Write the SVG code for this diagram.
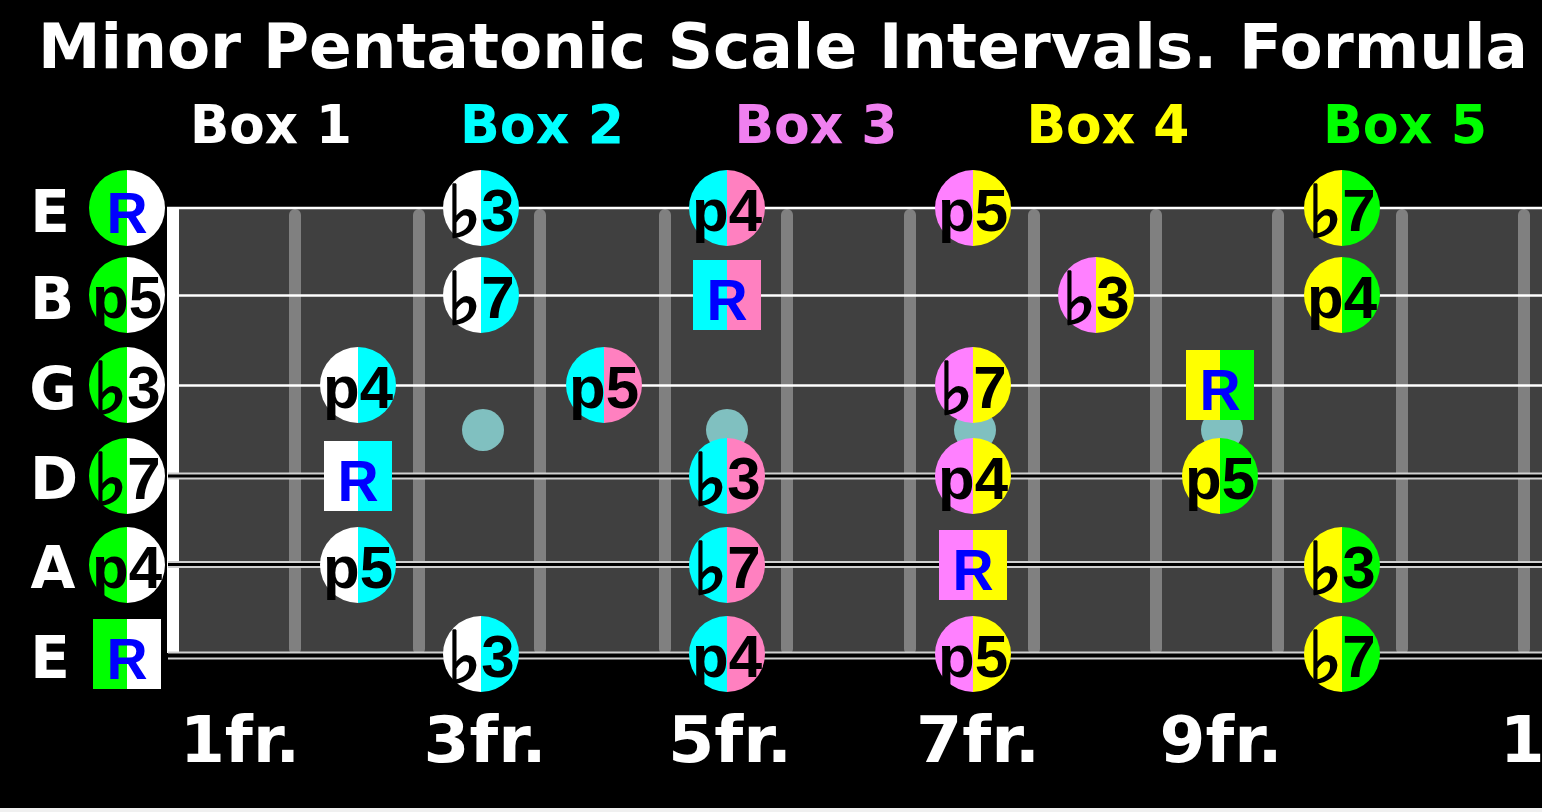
<svg xmlns="http://www.w3.org/2000/svg" xmlns:xlink="http://www.w3.org/1999/xlink" width="1542" height="812" viewBox="0 0 1542 812">
<style>
.hd{font-family:"DejaVu Sans","Liberation Sans",sans-serif;font-weight:bold;text-anchor:middle}
.iv{font-family:"Liberation Sans","DejaVu Sans",sans-serif;font-weight:bold;font-size:60px;text-anchor:middle;fill:#000}
.rt{font-family:"Liberation Sans","DejaVu Sans",sans-serif;font-weight:bold;font-size:57px;text-anchor:middle;fill:#0000ff}
.fl{font-family:"DejaVu Sans",sans-serif;font-weight:bold;font-size:72px;stroke:#000;stroke-width:2.2}
.fret{fill:#808080}
.dot{fill:#80c0c0}
.plain{stroke:#ffffff;stroke-width:2.5}
.wound{stroke:#d0d0d0;stroke-width:7}
.core{stroke:#000;stroke-width:3}
</style>
<defs>
<path id="hl" d="M0,-38 A38,38 0 0 0 0,38 Z"/>
<path id="hr" d="M0,-38 A38,38 0 0 1 0,38 Z"/>
<rect id="sl" x="-34" y="-35" width="34" height="70"/>
<rect id="sr" x="0" y="-35" width="34" height="70"/>
</defs>
<rect width="1542" height="812" fill="#000"/>
<rect x="0" y="808" width="1542" height="4" fill="#f0f0f0"/>
<g id="fretboard">
<rect x="179" y="209" width="1363" height="443" fill="#404040"/>
<rect class="fret" x="289" y="209" width="12" height="446" rx="6"/>
<rect class="fret" x="413" y="209" width="12" height="446" rx="6"/>
<rect class="fret" x="534" y="209" width="12" height="446" rx="6"/>
<rect class="fret" x="659" y="209" width="12" height="446" rx="6"/>
<rect class="fret" x="781" y="209" width="12" height="446" rx="6"/>
<rect class="fret" x="904" y="209" width="12" height="446" rx="6"/>
<rect class="fret" x="1028" y="209" width="12" height="446" rx="6"/>
<rect class="fret" x="1150" y="209" width="12" height="446" rx="6"/>
<rect class="fret" x="1272" y="209" width="12" height="446" rx="6"/>
<rect class="fret" x="1396" y="209" width="12" height="446" rx="6"/>
<rect class="fret" x="1518" y="209" width="12" height="446" rx="6"/>
<circle class="dot" cx="483" cy="430" r="21"/>
<circle class="dot" cx="727" cy="430" r="21"/>
<circle class="dot" cx="975" cy="430" r="21"/>
<circle class="dot" cx="1222" cy="430" r="21"/>
<rect x="167" y="207" width="12" height="446" fill="#fff"/>
</g>
<g id="strings">
<line class="plain" x1="167" y1="208" x2="1542" y2="208"/>
<line class="plain" x1="179" y1="295.5" x2="1542" y2="295.5"/>
<line class="plain" x1="179" y1="385.5" x2="1542" y2="385.5"/>
<line class="wound" x1="168" y1="476" x2="1542" y2="476"/>
<line class="core" x1="168" y1="476" x2="1542" y2="476"/>
<line class="wound" x1="168" y1="564.5" x2="1542" y2="564.5"/>
<line class="core" x1="168" y1="564.5" x2="1542" y2="564.5"/>
<line class="wound" x1="168" y1="655.5" x2="1542" y2="655.5" style="stroke-width:8"/>
<line class="core" x1="168" y1="655.5" x2="1542" y2="655.5" style="stroke-width:4"/>
</g>
<g id="title"><text class="hd" x="783" y="68" font-size="63" fill="#fff" textLength="1490" lengthAdjust="spacingAndGlyphs">Minor Pentatonic Scale Intervals. Formula</text></g>
<g id="box-labels">
<text class="hd" x="271" y="143" font-size="54" fill="#fff" textLength="162" lengthAdjust="spacingAndGlyphs">Box 1</text>
<text class="hd" x="542" y="143" font-size="54" fill="#00ffff" textLength="164" lengthAdjust="spacingAndGlyphs">Box 2</text>
<text class="hd" x="816" y="143" font-size="54" fill="#f080f0" textLength="163" lengthAdjust="spacingAndGlyphs">Box 3</text>
<text class="hd" x="1108" y="143" font-size="54" fill="#ffff00" textLength="163" lengthAdjust="spacingAndGlyphs">Box 4</text>
<text class="hd" x="1405" y="143" font-size="54" fill="#00ff00" textLength="164" lengthAdjust="spacingAndGlyphs">Box 5</text>
</g>
<g id="string-labels" fill="#fff">
<text class="hd" x="50" y="232" font-size="58">E</text>
<text class="hd" x="52" y="319" font-size="58">B</text>
<text class="hd" x="53" y="409" font-size="58">G</text>
<text class="hd" x="54" y="499" font-size="58">D</text>
<text class="hd" x="53" y="588" font-size="58">A</text>
<text class="hd" x="50" y="678" font-size="58">E</text>
</g>
<g id="fret-labels" fill="#fff">
<text class="hd" x="240" y="762" font-size="64" textLength="120" lengthAdjust="spacingAndGlyphs">1fr.</text>
<text class="hd" x="485" y="762" font-size="64" textLength="123" lengthAdjust="spacingAndGlyphs">3fr.</text>
<text class="hd" x="730" y="762" font-size="64" textLength="124" lengthAdjust="spacingAndGlyphs">5fr.</text>
<text class="hd" x="978" y="762" font-size="64" textLength="124" lengthAdjust="spacingAndGlyphs">7fr.</text>
<text class="hd" x="1221" y="762" font-size="64" textLength="123" lengthAdjust="spacingAndGlyphs">9fr.</text>
<text class="hd" x="1500" y="762" font-size="64" style="text-anchor:start">1</text>
</g>
<!-- open strings -->
<g id="n-e1-0" transform="translate(127,208)"><use xlink:href="#hl" fill="#00ff00"/><use xlink:href="#hr" fill="#fff"/><text class="rt" y="25">R</text></g>
<g id="n-b-0" transform="translate(127,295)"><use xlink:href="#hl" fill="#00ff00"/><use xlink:href="#hr" fill="#fff"/><text class="iv" y="23">p5</text></g>
<g id="n-g-0" transform="translate(127,385)"><use xlink:href="#hl" fill="#00ff00"/><use xlink:href="#hr" fill="#fff"/><text class="iv" y="23"><tspan class="fl" dy="6">♭</tspan><tspan dy="-6">3</tspan></text></g>
<g id="n-d-0" transform="translate(127,476)"><use xlink:href="#hl" fill="#00ff00"/><use xlink:href="#hr" fill="#fff"/><text class="iv" y="23"><tspan class="fl" dy="6">♭</tspan><tspan dy="-6">7</tspan></text></g>
<g id="n-a-0" transform="translate(127,565)"><use xlink:href="#hl" fill="#00ff00"/><use xlink:href="#hr" fill="#fff"/><text class="iv" y="23">p4</text></g>
<g id="n-e6-0" transform="translate(127,654)"><use xlink:href="#sl" fill="#00ff00"/><use xlink:href="#sr" fill="#fff"/><text class="rt" y="25">R</text></g>
<!-- fret 2 -->
<g id="n-g-2" transform="translate(358,385)"><use xlink:href="#hl" fill="#fff"/><use xlink:href="#hr" fill="#00ffff"/><text class="iv" y="23">p4</text></g>
<g id="n-d-2" transform="translate(358,476)"><use xlink:href="#sl" fill="#fff"/><use xlink:href="#sr" fill="#00ffff"/><text class="rt" y="25">R</text></g>
<g id="n-a-2" transform="translate(358,565)"><use xlink:href="#hl" fill="#fff"/><use xlink:href="#hr" fill="#00ffff"/><text class="iv" y="23">p5</text></g>
<!-- fret 3 -->
<g id="n-e1-3" transform="translate(481,208)"><use xlink:href="#hl" fill="#fff"/><use xlink:href="#hr" fill="#00ffff"/><text class="iv" y="23"><tspan class="fl" dy="6">♭</tspan><tspan dy="-6">3</tspan></text></g>
<g id="n-b-3" transform="translate(481,295)"><use xlink:href="#hl" fill="#fff"/><use xlink:href="#hr" fill="#00ffff"/><text class="iv" y="23"><tspan class="fl" dy="6">♭</tspan><tspan dy="-6">7</tspan></text></g>
<g id="n-e6-3" transform="translate(481,654)"><use xlink:href="#hl" fill="#fff"/><use xlink:href="#hr" fill="#00ffff"/><text class="iv" y="23"><tspan class="fl" dy="6">♭</tspan><tspan dy="-6">3</tspan></text></g>
<!-- fret 4 -->
<g id="n-g-4" transform="translate(604,385)"><use xlink:href="#hl" fill="#00ffff"/><use xlink:href="#hr" fill="#ff80c0"/><text class="iv" y="23">p5</text></g>
<!-- fret 5 -->
<g id="n-e1-5" transform="translate(727,208)"><use xlink:href="#hl" fill="#00ffff"/><use xlink:href="#hr" fill="#ff80c0"/><text class="iv" y="23">p4</text></g>
<g id="n-b-5" transform="translate(727,295)"><use xlink:href="#sl" fill="#00ffff"/><use xlink:href="#sr" fill="#ff80c0"/><text class="rt" y="25">R</text></g>
<g id="n-d-5" transform="translate(727,476)"><use xlink:href="#hl" fill="#00ffff"/><use xlink:href="#hr" fill="#ff80c0"/><text class="iv" y="23"><tspan class="fl" dy="6">♭</tspan><tspan dy="-6">3</tspan></text></g>
<g id="n-a-5" transform="translate(727,565)"><use xlink:href="#hl" fill="#00ffff"/><use xlink:href="#hr" fill="#ff80c0"/><text class="iv" y="23"><tspan class="fl" dy="6">♭</tspan><tspan dy="-6">7</tspan></text></g>
<g id="n-e6-5" transform="translate(727,654)"><use xlink:href="#hl" fill="#00ffff"/><use xlink:href="#hr" fill="#ff80c0"/><text class="iv" y="23">p4</text></g>
<!-- fret 7 -->
<g id="n-e1-7" transform="translate(973,208)"><use xlink:href="#hl" fill="#ff80ff"/><use xlink:href="#hr" fill="#ffff00"/><text class="iv" y="23">p5</text></g>
<g id="n-g-7" transform="translate(973,385)"><use xlink:href="#hl" fill="#ff80ff"/><use xlink:href="#hr" fill="#ffff00"/><text class="iv" y="23"><tspan class="fl" dy="6">♭</tspan><tspan dy="-6">7</tspan></text></g>
<g id="n-d-7" transform="translate(973,476)"><use xlink:href="#hl" fill="#ff80ff"/><use xlink:href="#hr" fill="#ffff00"/><text class="iv" y="23">p4</text></g>
<g id="n-a-7" transform="translate(973,565)"><use xlink:href="#sl" fill="#ff80ff"/><use xlink:href="#sr" fill="#ffff00"/><text class="rt" y="25">R</text></g>
<g id="n-e6-7" transform="translate(973,654)"><use xlink:href="#hl" fill="#ff80ff"/><use xlink:href="#hr" fill="#ffff00"/><text class="iv" y="23">p5</text></g>
<!-- fret 8 -->
<g id="n-b-8" transform="translate(1096,295)"><use xlink:href="#hl" fill="#ff80ff"/><use xlink:href="#hr" fill="#ffff00"/><text class="iv" y="23"><tspan class="fl" dy="6">♭</tspan><tspan dy="-6">3</tspan></text></g>
<!-- fret 9 -->
<g id="n-g-9" transform="translate(1220,385)"><use xlink:href="#sl" fill="#ffff00"/><use xlink:href="#sr" fill="#00ff00"/><text class="rt" y="25">R</text></g>
<g id="n-d-9" transform="translate(1220,476)"><use xlink:href="#hl" fill="#ffff00"/><use xlink:href="#hr" fill="#00ff00"/><text class="iv" y="23">p5</text></g>
<!-- fret 10 -->
<g id="n-e1-10" transform="translate(1342,208)"><use xlink:href="#hl" fill="#ffff00"/><use xlink:href="#hr" fill="#00ff00"/><text class="iv" y="23"><tspan class="fl" dy="6">♭</tspan><tspan dy="-6">7</tspan></text></g>
<g id="n-b-10" transform="translate(1342,295)"><use xlink:href="#hl" fill="#ffff00"/><use xlink:href="#hr" fill="#00ff00"/><text class="iv" y="23">p4</text></g>
<g id="n-a-10" transform="translate(1342,565)"><use xlink:href="#hl" fill="#ffff00"/><use xlink:href="#hr" fill="#00ff00"/><text class="iv" y="23"><tspan class="fl" dy="6">♭</tspan><tspan dy="-6">3</tspan></text></g>
<g id="n-e6-10" transform="translate(1342,654)"><use xlink:href="#hl" fill="#ffff00"/><use xlink:href="#hr" fill="#00ff00"/><text class="iv" y="23"><tspan class="fl" dy="6">♭</tspan><tspan dy="-6">7</tspan></text></g>
<g id="connectors"/>
</svg>
